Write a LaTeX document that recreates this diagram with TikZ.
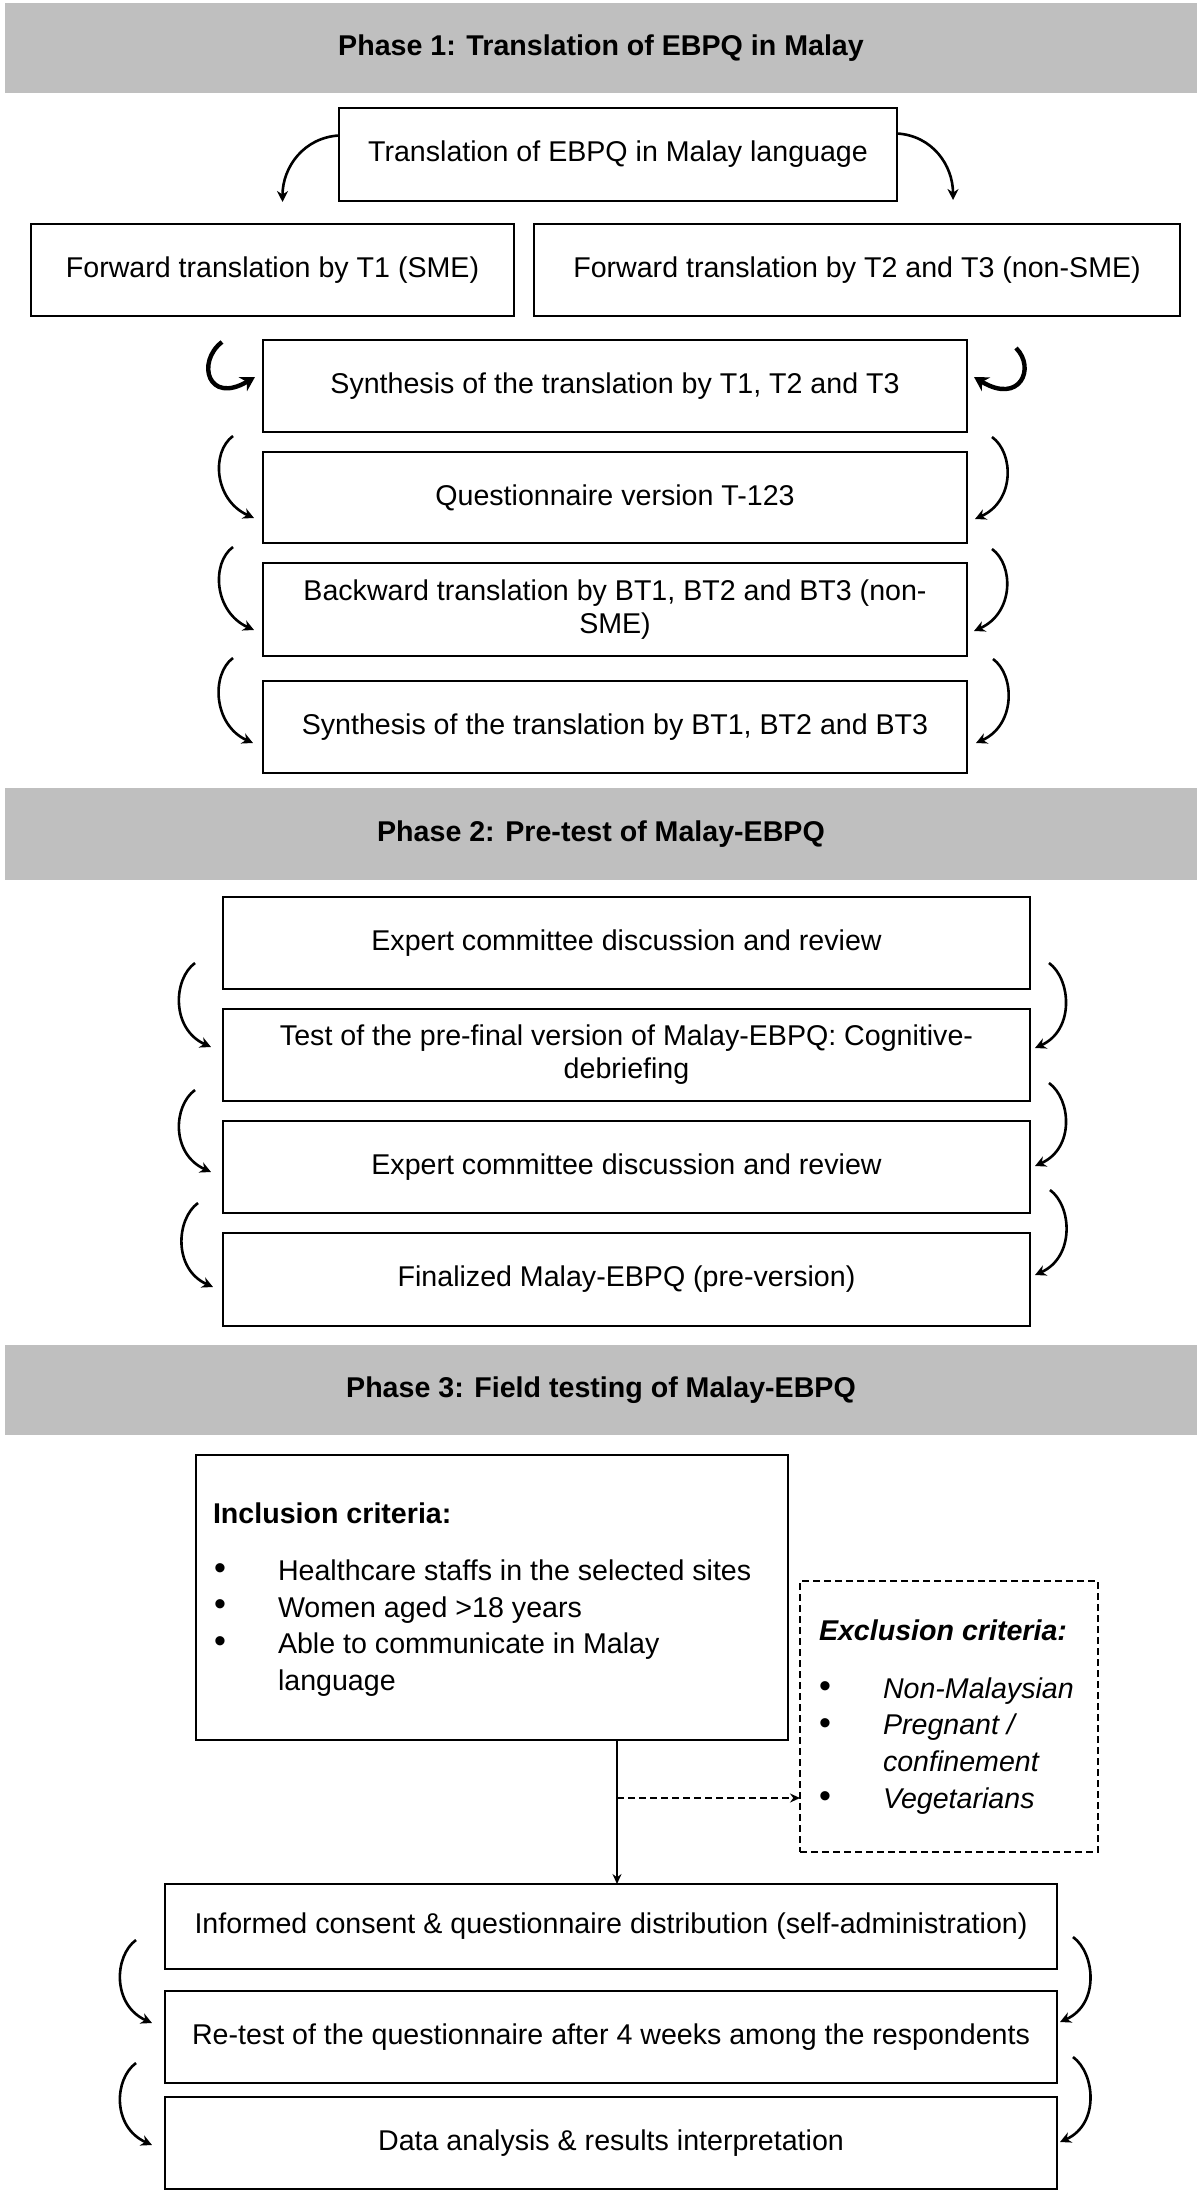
\documentclass[tikz,border=0pt]{standalone}
\usepackage{fontspec}
\setmainfont{Liberation Sans}
\usetikzlibrary{arrows.meta,calc}
\definecolor{bannergray}{RGB}{191,191,191}
\newcommand\mainfs{\fontsize{14.3}{16.5}\selectfont}
\newcommand\arcL[4]{\draw[carr] ($(#1)+(#2)$) .. controls ($(#1)+(#2)+(-22,16)$) and ($(#3)+(#4)+(-40,-18)$) .. ($(#3)+(#4)$);}
\newcommand\arcR[4]{\draw[carr] ($(#1)+(#2)$) .. controls ($(#1)+(#2)+(22,16)$) and ($(#3)+(#4)+(40,-18)$) .. ($(#3)+(#4)$);}
\tikzset{
  at box/.style n args={4}{minimum width={(#2-#1)*0.5pt}, minimum height={(#4-#3)*0.5pt}, at={({(#1+#2)/2},{(#3+#4)/2})}},
  pbox/.style={draw, line width=1pt, inner sep=0pt, outer sep=0pt, align=center, font=\mainfs},
  dbox/.style={draw, line width=0.9pt, dash pattern=on 3.5pt off 2pt, inner sep=0pt, outer sep=0pt},
  banner/.style={fill=bannergray, inner sep=0pt, outer sep=0pt, font=\bfseries\mainfs},
  txt/.style={inner sep=0pt, outer sep=0pt, font=\mainfs},
  bul/.style={inner sep=0pt, outer sep=0pt, font=\fontsize{17}{17}\selectfont},
  carr/.style={line width=1.3pt, -{Stealth[length=5.5pt,width=5.5pt]}},
  hook/.style={line width=2.2pt, -{Stealth[length=7pt,width=8pt]}},
  conn/.style={line width=0.8pt, -{Stealth[length=5pt,width=4.5pt]}},
}
\begin{document}
\begin{tikzpicture}[x=0.5pt,y=-0.5pt]
\useasboundingbox (0,0) rectangle (1200,2193);
% Phase 1
\node[banner, at box={5}{1197}{3}{93}] (B1) {Phase 1: Translation of EBPQ in Malay};
\node[pbox, at box={339}{897}{108}{201}] (T0) {Translation of EBPQ in Malay language};
\node[pbox, at box={31}{514}{224}{316}] (F1) {Forward translation by T1 (SME)};
\node[pbox, at box={534}{1180}{224}{316}] (F2) {Forward translation by T2 and T3 (non-SME)};
\node[pbox, at box={263}{967}{340}{432}] (S1) {Synthesis of the translation by T1, T2 and T3};
\node[pbox, at box={263}{967}{452}{543}] (Q) {Questionnaire version T-123};
\node[pbox, at box={263}{967}{563}{656}] (BW) {Backward translation by BT1, BT2 and BT3 (non-\\SME)};
\node[pbox, at box={263}{967}{681}{773}] (S2) {Synthesis of the translation by BT1, BT2 and BT3};
% Phase 2
\node[banner, at box={5}{1197}{788}{880}] (B2) {Phase 2: Pre-test of Malay-EBPQ};
\node[pbox, at box={223}{1030}{897}{989}] (E1) {Expert committee discussion and review};
\node[pbox, at box={223}{1030}{1009}{1101}] (TP) {Test of the pre-final version of Malay-EBPQ: Cognitive-\\debriefing};
\node[pbox, at box={223}{1030}{1121}{1213}] (E2) {Expert committee discussion and review};
\node[pbox, at box={223}{1030}{1233}{1326}] (FM) {Finalized Malay-EBPQ (pre-version)};
% Phase 3
\node[banner, at box={5}{1197}{1345}{1435}] (B3) {Phase 3: Field testing of Malay-EBPQ};
\node[pbox, at box={196}{788}{1455}{1740}] (INC) {};
\node[dbox, at box={800}{1098}{1581}{1852}] (EXC) {};
\node[pbox, at box={165}{1057}{1884}{1969}] (IC) {Informed consent \& questionnaire distribution (self-administration)};
\node[pbox, at box={165}{1057}{1991}{2083}] (RT) {Re-test of the questionnaire after 4 weeks among the respondents};
\node[pbox, at box={165}{1057}{2097}{2189}] (DA) {Data analysis \& results interpretation};
% inclusion text
\node[txt, anchor=base west, font=\bfseries\mainfs] (inh) at (213,1523) {Inclusion criteria:};
\node[bul] (inb1) at (220,1572) {\textbullet};
\node[bul] (inb2) at (220,1608) {\textbullet};
\node[bul] (inb3) at (220,1645) {\textbullet};
\node[txt, anchor=base west] (inl1) at (278,1580) {Healthcare staffs in the selected sites};
\node[txt, anchor=base west] (inl2) at (278,1617) {Women aged >18 years};
\node[txt, anchor=base west] (inl3) at (278,1653) {Able to communicate in Malay};
\node[txt, anchor=base west] (inl4) at (278,1690) {language};
% exclusion text
\node[txt, anchor=base west, font=\bfseries\itshape\mainfs] (exh) at (819,1640) {Exclusion criteria:};
\node[bul] (exb1) at (825,1690) {\textbullet};
\node[bul] (exb2) at (825,1727) {\textbullet};
\node[bul] (exb3) at (825,1800) {\textbullet};
\node[txt, anchor=base west, font=\itshape\mainfs] (exl1) at (883,1698) {Non-Malaysian};
\node[txt, anchor=base west, font=\itshape\mainfs] (exl2) at (883,1734) {Pregnant /};
\node[txt, anchor=base west, font=\itshape\mainfs] (exl3) at (883,1771) {confinement};
\node[txt, anchor=base west, font=\itshape\mainfs] (exl4) at (883,1808) {Vegetarians};
% top arrows
\draw[carr] ($(T0.west)+(0,-19)$) .. controls ($(T0.west)+(-35,-17)$) and ($(F1.north)+(10,-57)$) .. ($(F1.north)+(10,-22)$);
\draw[carr] ($(T0.east)+(0,-21)$) .. controls ($(T0.east)+(35,-19)$) and ($(F2.north)+(96,-59)$) .. ($(F2.north)+(96,-24)$);
% hooks into synthesis
\draw[hook] ($(S1.west)+(-41,-44)$) .. controls ($(S1.west)+(-67,-24)$) and ($(S1.west)+(-55,19)$) .. ($(S1.west)+(-8,-9)$);
\draw[hook] ($(S1.east)+(49,-38)$) .. controls ($(S1.east)+(69,-18)$) and ($(S1.east)+(53,19)$) .. ($(S1.east)+(7,-9)$);
% phase 1 side arrows
\arcL{S1.south west}{-30,4}{Q.south west}{-9,-25}
\arcL{Q.south west}{-30,4}{BW.south west}{-9,-26}
\arcL{BW.south west}{-30,2}{S2.south west}{-10,-30}
\arcR{S1.south east}{25,5}{Q.south east}{8,-24}
\arcR{Q.south east}{25,6}{BW.south east}{7,-25}
\arcR{BW.south east}{26,3}{S2.south east}{9,-30}
% phase 2 side arrows
\arcL{E1.south west}{-28,-26}{TP.south west}{-12,-54}
\arcL{TP.south west}{-28,-11}{E2.south west}{-12,-41}
\arcL{E2.south west}{-25,-10}{FM.south west}{-10,-39}
\arcR{E1.south east}{19,-26}{TP.south east}{5,-53}
\arcR{TP.south east}{19,-18}{E2.south east}{5,-47}
\arcR{E2.south east}{20,-23}{FM.south east}{5,-51}
% phase 3 connectors
\coordinate (vtop) at ($(INC.south west)+(421,0)$);
\coordinate (vdash) at ($(vtop)+(0,58)$);
\draw[conn] (vtop) -- (vtop |- IC.north);
\draw[conn, dash pattern=on 3.5pt off 2pt] (vdash) -- (vdash -| EXC.west);
\arcL{IC.south west}{-29,-29}{RT.south west}{-13,-60}
\arcL{RT.south west}{-29,-20}{DA.south west}{-13,-44}
\arcR{IC.south east}{16,-32}{RT.south east}{3,-61}
\arcR{RT.south east}{16,-26}{DA.south east}{3,-47}
\end{tikzpicture}
\end{document}
